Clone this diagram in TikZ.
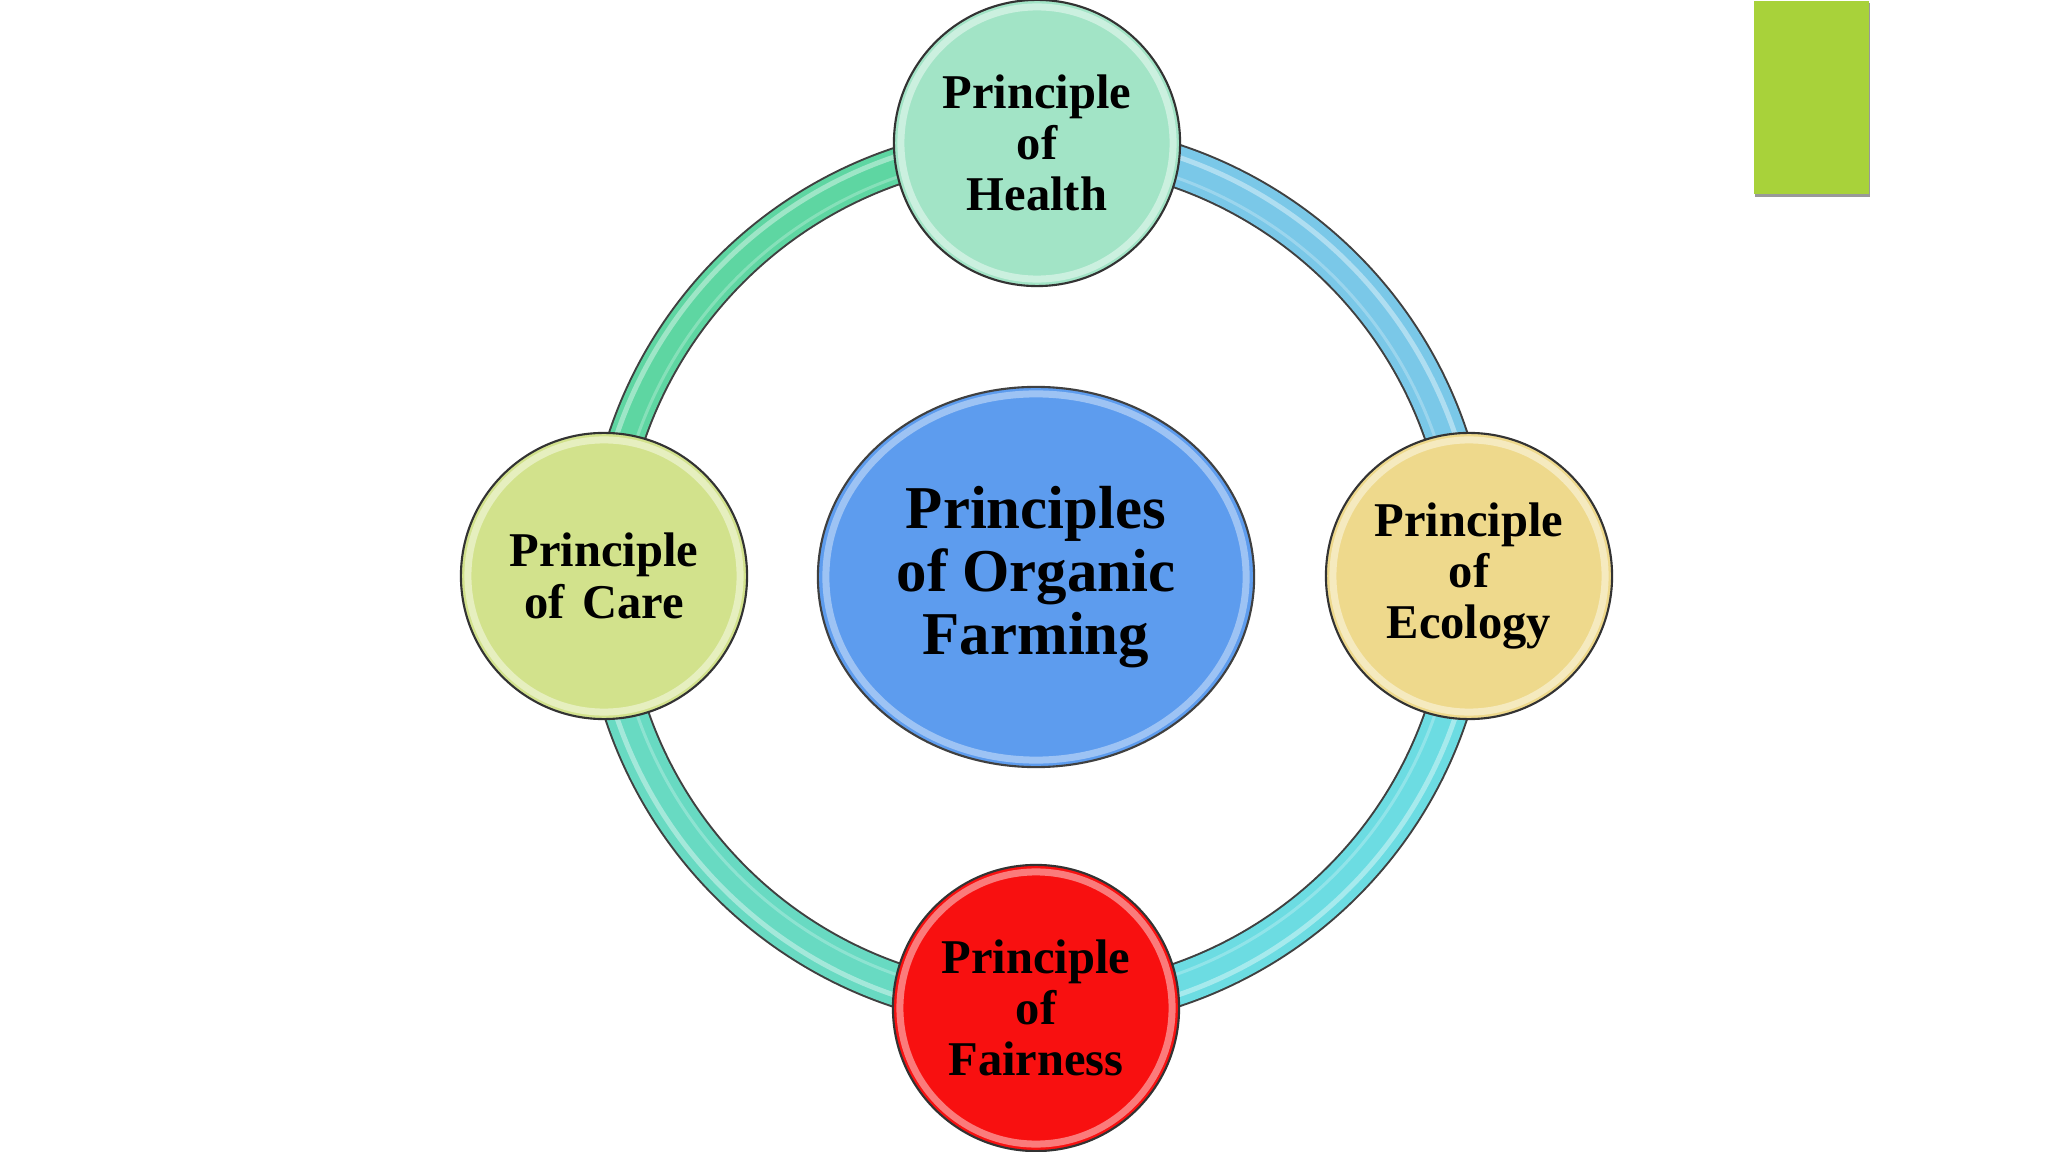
\documentclass[tikz,border=0pt]{standalone}
\usepackage{fontspec}
\setmainfont{Liberation Serif}
\usetikzlibrary{shapes.geometric}
\pgfdeclarelayer{paper}
\pgfdeclarelayer{background}
\pgfsetlayers{paper,background,main}
\definecolor{healthc}{HTML}{A2E4C6}
\definecolor{carec}{HTML}{D2E28C}
\definecolor{ecoc}{HTML}{EED98C}
\definecolor{fairc}{HTML}{F81010}
\definecolor{centc}{HTML}{5D9CEE}
\definecolor{ringtl}{HTML}{5ED6A2}
\definecolor{ringtr}{HTML}{7AC8E8}
\definecolor{ringbr}{HTML}{6CDCE2}
\definecolor{ringbl}{HTML}{68DAC2}
\definecolor{barc}{HTML}{A8D23A}
\begin{document}
\begin{tikzpicture}[x=0.01cm,y=-0.01cm,
  principle/.style={circle, fill=#1, draw=black!80, line width=0.6pt,
    minimum size=2.86cm, inner sep=0pt, align=center,
    font=\fontsize{13.8pt}{14.6pt}\selectfont\bfseries,
    path picture={\draw[white,opacity=0.45,line width=0.7mm]
      (path picture bounding box.center) circle[radius=1.36cm];}},
  central/.style={ellipse, fill=centc, draw=black!75, line width=0.6pt,
    minimum width=4.36cm, minimum height=3.80cm, inner sep=0pt, align=center,
    font=\fontsize{17.3pt}{18pt}\selectfont\bfseries,
    path picture={\draw[white,opacity=0.4,line width=0.7mm]
      (path picture bounding box.center) ellipse[x radius=2.10cm, y radius=1.83cm];}},
  ringseg/.style 2 args={draw=#1, line width=#2,
    preaction={draw=black!75, line width=#2+0.04cm}},
  ringhl/.style={draw=white, opacity=0.4, line width=0.05cm}
]
\useasboundingbox (0,0) rectangle (2048,1152);
\clip (0,0) rectangle (2048,1152);
\begin{pgfonlayer}{paper}
\fill[white] (0,0) rectangle (2048,1152);
\end{pgfonlayer}

% corner bar
\fill[black!40] (1755,3) rectangle (1870,197);
\node[fill=barc, inner sep=0pt, minimum width=1.15cm, minimum height=1.93cm, anchor=north west] (bar) at (1753,0) {};

\coordinate (ringc) at (1036,576);

\node[central] (center) at (1036,577) {Principles\\of Organic\\Farming};
\node[principle=healthc] (health) at (1037,143) {Principle\\of\\Health};
\node[principle=ecoc] (ecology) at (1469,576) {Principle\\of\\Ecology};
\node[principle=fairc] (fairness) at (1036,1008) {Principle\\of\\Fairness};
\node[principle=carec] (care) at (604,576) {Principle\\of\hspace{0.12em} Care};

\begin{pgfonlayer}{background}
\draw[ringseg={ringtr}{0.40cm}] (health.center) to[bend left=45] (ecology.center);
\draw[ringseg={ringbr}{0.40cm}] (ecology.center) to[bend left=45] (fairness.center);
\draw[ringseg={ringbl}{0.41cm}] (fairness.center) to[bend left=45] (care.center);
\draw[ringseg={ringtl}{0.34cm}] (care.center) to[bend left=45] (health.center);
\draw[ringhl] (ringc) circle[radius=4.42cm];
\draw[white, opacity=0.25, line width=0.03cm] (ringc) circle[radius=4.22cm];
\end{pgfonlayer}
\end{tikzpicture}
\end{document}
